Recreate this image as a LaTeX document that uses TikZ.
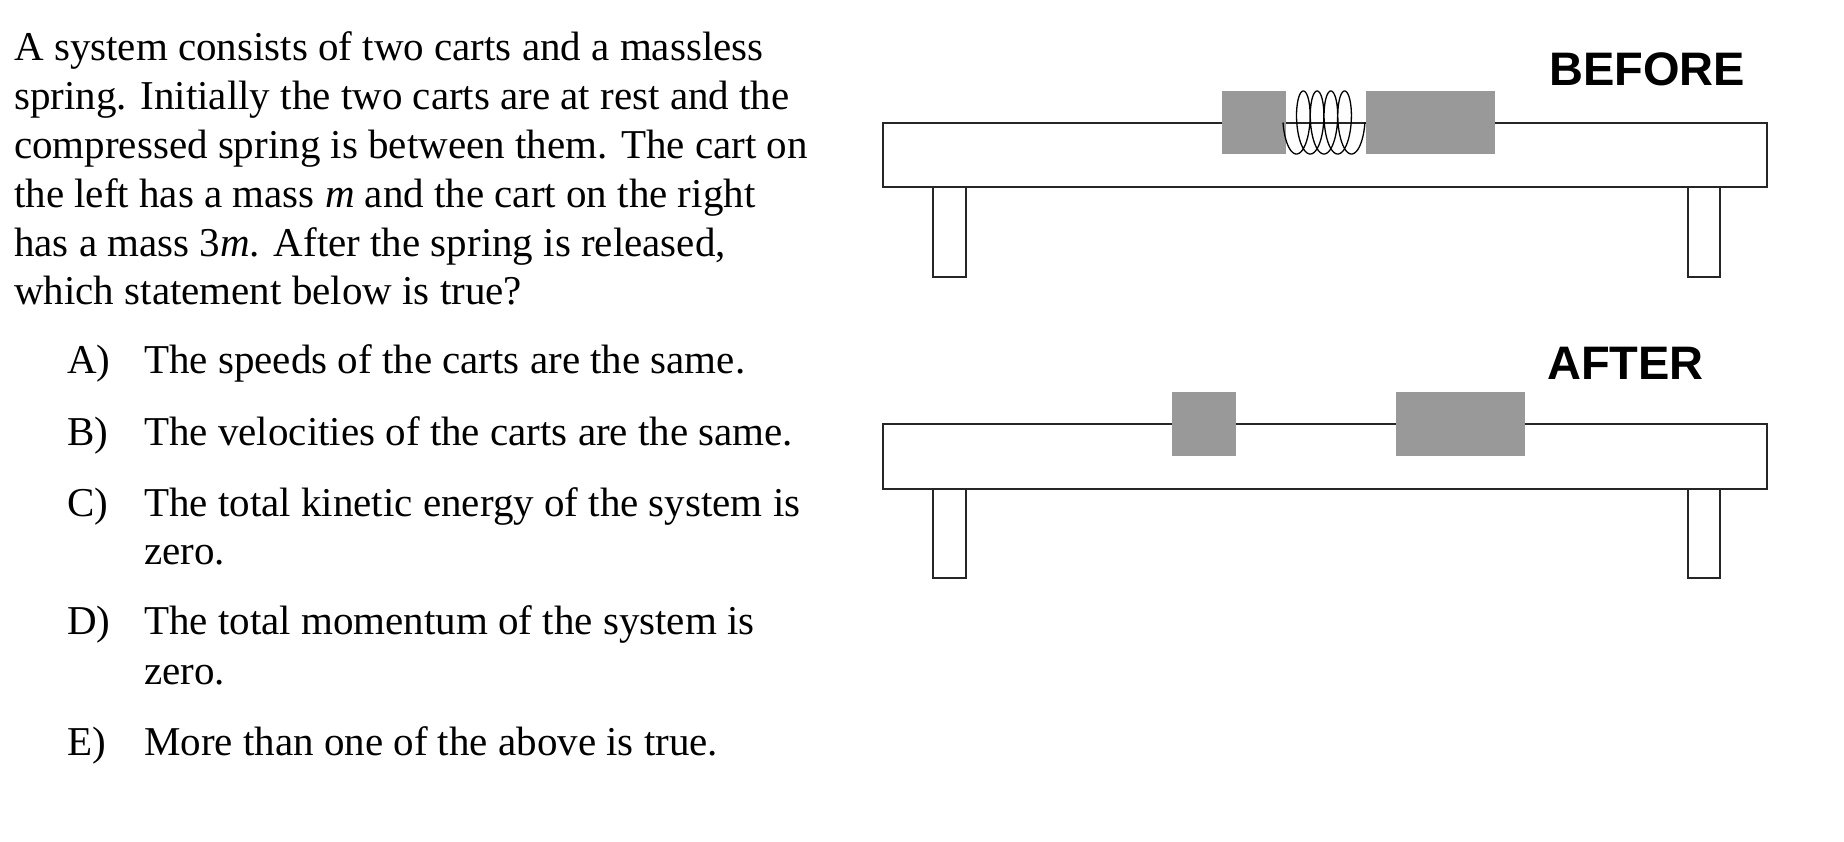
\documentclass[tikz,border=0pt]{standalone}
\usepackage{fontspec}
\setmainfont{Liberation Serif}
\newfontfamily\headfont{Liberation Sans}
\begin{document}
\begin{tikzpicture}[x=1pt,y=-1pt,
  txt/.style={anchor=base west,inner sep=0pt,font=\fontsize{41}{49}\selectfont},
  head/.style={anchor=base west,inner sep=0pt,font=\headfont\bfseries\fontsize{47}{50}\selectfont},
  tab/.style={draw=black!85,line width=1.5pt,fill=white},
  cart/.style={fill=black!40,draw=none}]
\useasboundingbox (0,0) rectangle (1844,842);
% question text
\node[txt] (l1) at (14,61) {A system consists of two carts and a massless};
\node[txt] (l2) at (14,110) {spring. Initially the two carts are at rest and the};
\node[txt] (l3) at (14,159) {compressed spring is between them. The cart on};
\node[txt] (l4) at (14,208) {the left has a mass \textit{m} and the cart on the right};
\node[txt] (l5) at (14,257) {has a mass 3\textit{m}. After the spring is released,};
\node[txt] (l6) at (14,305) {which statement below is true?};
\foreach \lab/\t/\y in {A/{The speeds of the carts are the same.}/373,
  B/{The velocities of the carts are the same.}/445,
  C/{The total kinetic energy of the system is}/516,
  D/{The total momentum of the system is}/634,
  E/{More than one of the above is true.}/755}{
  \node[txt] (o\lab) at (67,\y) {\lab)};
  \node[txt] (t\lab) at (144,\y) {\t};
}
\node[txt] (zc) at (144,564) {zero.};
\node[txt] (zd) at (144,684) {zero.};
% BEFORE
\node[head] (before) at (1549,86) {BEFORE};
\draw[tab] (933,187) rectangle (966,277);
\draw[tab] (1688,187) rectangle (1720,277);
\draw[tab] (883,123) rectangle (1767,187);
\fill[cart] (1222,91) rectangle (1286,154);
\fill[cart] (1366,91) rectangle (1495,154);
\draw[line width=1.3pt] plot[domain=0:9*pi,samples=400,variable=\t]
  ({1293+2.19*\t-10*cos(\t r)},{122.5+31.5*sin(\t r)});
% AFTER
\node[head] (after) at (1547,379) {AFTER};
\draw[tab] (933,489) rectangle (966,578);
\draw[tab] (1688,489) rectangle (1720,578);
\draw[tab] (883,424) rectangle (1767,489);
\fill[cart] (1172,392) rectangle (1236,456);
\fill[cart] (1396,392) rectangle (1525,456);
\end{tikzpicture}
\end{document}
